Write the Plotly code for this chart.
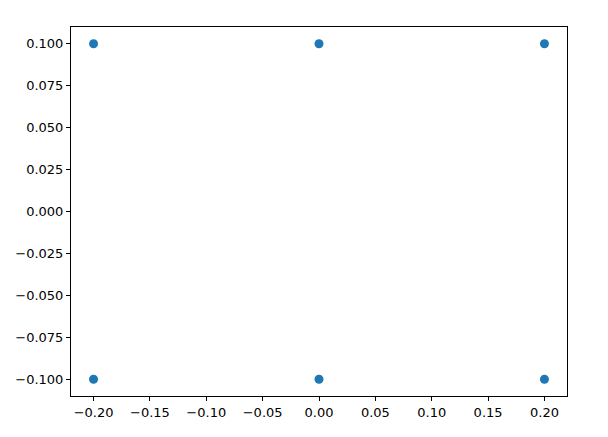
import plotly.graph_objects as go

x_vals = [-0.2, 0.0, 0.2, -0.2, 0.0, 0.2]
y_vals = [0.1, 0.1, 0.1, -0.1, -0.1, -0.1]

x_ticks = [-0.2, -0.15, -0.1, -0.05, 0.0, 0.05, 0.1, 0.15, 0.2]
x_ticktext = ["\u22120.20", "\u22120.15", "\u22120.10", "\u22120.05", "0.00", "0.05", "0.10", "0.15", "0.20"]
y_ticks = [-0.1, -0.075, -0.05, -0.025, 0.0, 0.025, 0.05, 0.075, 0.1]
y_ticktext = ["\u22120.100", "\u22120.075", "\u22120.050", "\u22120.025", "0.000", "0.025", "0.050", "0.075", "0.100"]

fig = go.Figure()
fig.add_trace(go.Scatter(
    x=x_vals, y=y_vals, mode="markers",
    marker=dict(color="#1f77b4", size=9, line=dict(width=0)),
    showlegend=False,
))

axis_common = dict(
    showgrid=False, zeroline=False, showline=True, linecolor="black", linewidth=1,
    mirror=True, ticks="outside", ticklen=4, tickwidth=1, tickcolor="black",
    tickfont=dict(family="DejaVu Sans", size=13, color="black"),
    automargin=False,
)

fig.update_xaxes(range=[-0.22, 0.22], tickvals=x_ticks, ticktext=x_ticktext, **axis_common)
fig.update_yaxes(range=[-0.11, 0.11], tickvals=y_ticks, ticktext=y_ticktext, **axis_common)

fig.update_layout(
    width=600, height=429,
    margin=dict(l=63, r=41, t=19, b=41),
    paper_bgcolor="white", plot_bgcolor="white",
)

fig.write_html("out.html")
